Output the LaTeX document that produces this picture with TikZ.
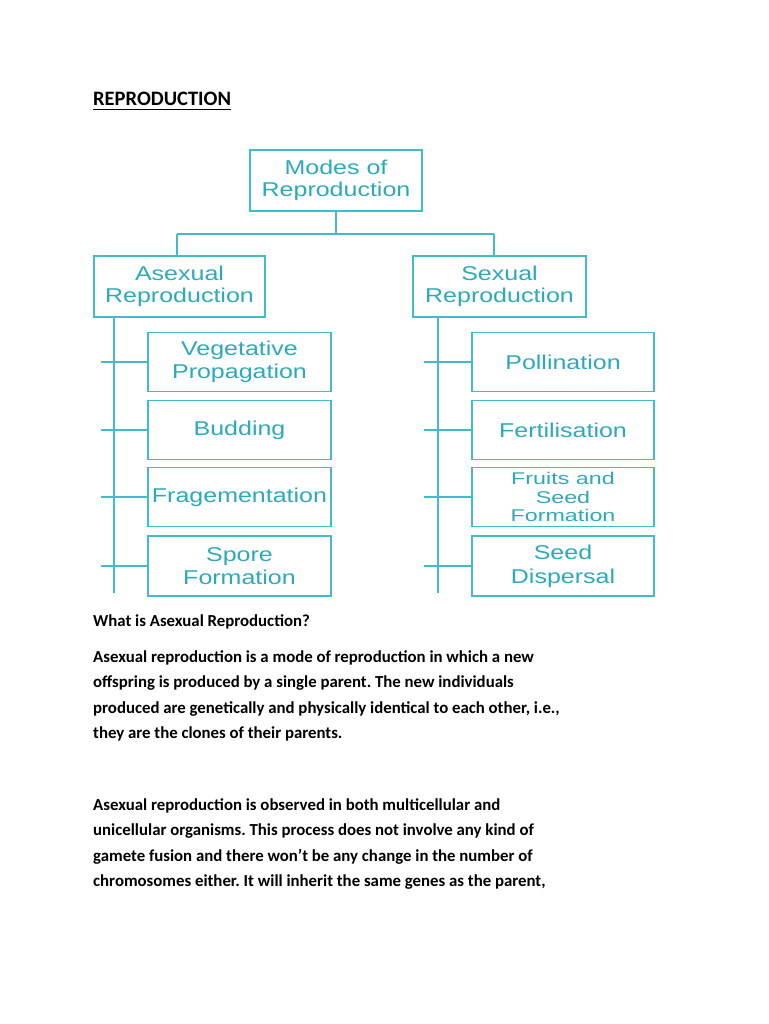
\documentclass[tikz,border=0pt]{standalone}
\usepackage{fontspec}
\setmainfont{Carlito}
\newfontfamily\diag[FakeStretch=1.25]{Liberation Sans}
\newfontfamily\diagn[FakeStretch=1.37]{Liberation Sans}
\definecolor{tline}{RGB}{64,188,204}
\definecolor{ttext}{RGB}{45,170,186}
\frenchspacing
\begin{document}
\begin{tikzpicture}[x=1pt,y=-1pt,
  box/.style={draw=tline, line width=1.8pt, rectangle, align=center, text=ttext, inner sep=0pt,
    font=\diag\fontsize{20}{22.5}\selectfont},
  lkid/.style={box, minimum width=183, minimum height=59},
  rkid/.style={box, minimum width=182, minimum height=59},
  conn/.style={draw=tline, line width=1.6pt},
  body/.style={anchor=base west, inner sep=0pt, font=\bfseries\fontsize{16.8}{20}\selectfont}]
\useasboundingbox[fill=white] (0,0) rectangle (768,1024);

% title
\node[anchor=base west, inner sep=0pt, font=\bfseries\fontsize{20.5}{24}\selectfont] (title) at (93,106) {REPRODUCTION};
\draw[line width=1.4pt] ([yshift=-3.5]title.base west) -- ([yshift=-3.5]title.base east);

% diagram boxes
\node[box, minimum width=172, minimum height=61] (modes) at (336,180.5) {Modes of\\Reproduction};
\node[box, minimum width=171, minimum height=61] (asex) at (179.5,286.5) {Asexual\\Reproduction};
\node[box, minimum width=173, minimum height=61] (sex) at (499.5,286.5) {Sexual\\Reproduction};

\node[lkid] (veg) at (239.5,362) {Vegetative\\Propagation};
\node[lkid] (bud) at (239.5,430) {Budding};
\node[lkid] (frag) at (239.5,497) {Fragementation};
\node[lkid, minimum height=60] (spore) at (239.5,566) {Spore\\Formation};

\node[rkid] (poll) at (563,362) {Pollination};
\node[rkid] (fert) at (563,430) {Fertilisation};
\node[rkid, font=\diagn\fontsize{17}{18.5}\selectfont] (fruit) at (563,497) {Fruits and\\Seed\\Formation};
\node[rkid, minimum height=60, font=\diag\fontsize{20}{24}\selectfont] (disp) at (563,566) {Seed\\Dispersal};

% connectors
\coordinate (jl) at (177,234);
\coordinate (jr) at (494,234);
\coordinate (jm) at (modes.south |- jl);
\draw[conn] (modes.south) -- (jm);
\draw[conn] (jl) -- (jr);
\draw[conn] (jl) -- (jl |- asex.north);
\draw[conn] (jr) -- (jr |- sex.north);

\coordinate (ls) at (114,593);
\coordinate (lt) at (101,593);
\draw[conn] (ls |- asex.south) -- (ls);
\foreach \k in {veg,bud,frag,spore}{\draw[conn] (lt |- \k.west) -- (\k.west);}

\coordinate (rs) at (438,593);
\coordinate (rt) at (424,593);
\draw[conn] (rs |- sex.south) -- (rs);
\foreach \k in {poll,fert,fruit,disp}{\draw[conn] (rt |- \k.west) -- (\k.west);}

% body text
\node[body] (h1) at (93,626) {What is Asexual Reproduction?};
\node[body] (p1a) at (93,662) {Asexual reproduction is a mode of reproduction in which a new};
\node[body] (p1b) at (93,687.5) {offspring is produced by a single parent. The new individuals};
\node[body] (p1c) at (93,713) {produced are genetically and physically identical to each other, i.e.,};
\node[body] (p1d) at (93,738.5) {they are the clones of their parents.};

\node[body] (p2a) at (93,810) {Asexual reproduction is observed in both multicellular and};
\node[body] (p2b) at (93,835.5) {unicellular organisms. This process does not involve any kind of};
\node[body] (p2c) at (93,861) {gamete fusion and there won’t be any change in the number of};
\node[body] (p2d) at (93,886.5) {chromosomes either. It will inherit the same genes as the parent,};
\end{tikzpicture}
\end{document}
